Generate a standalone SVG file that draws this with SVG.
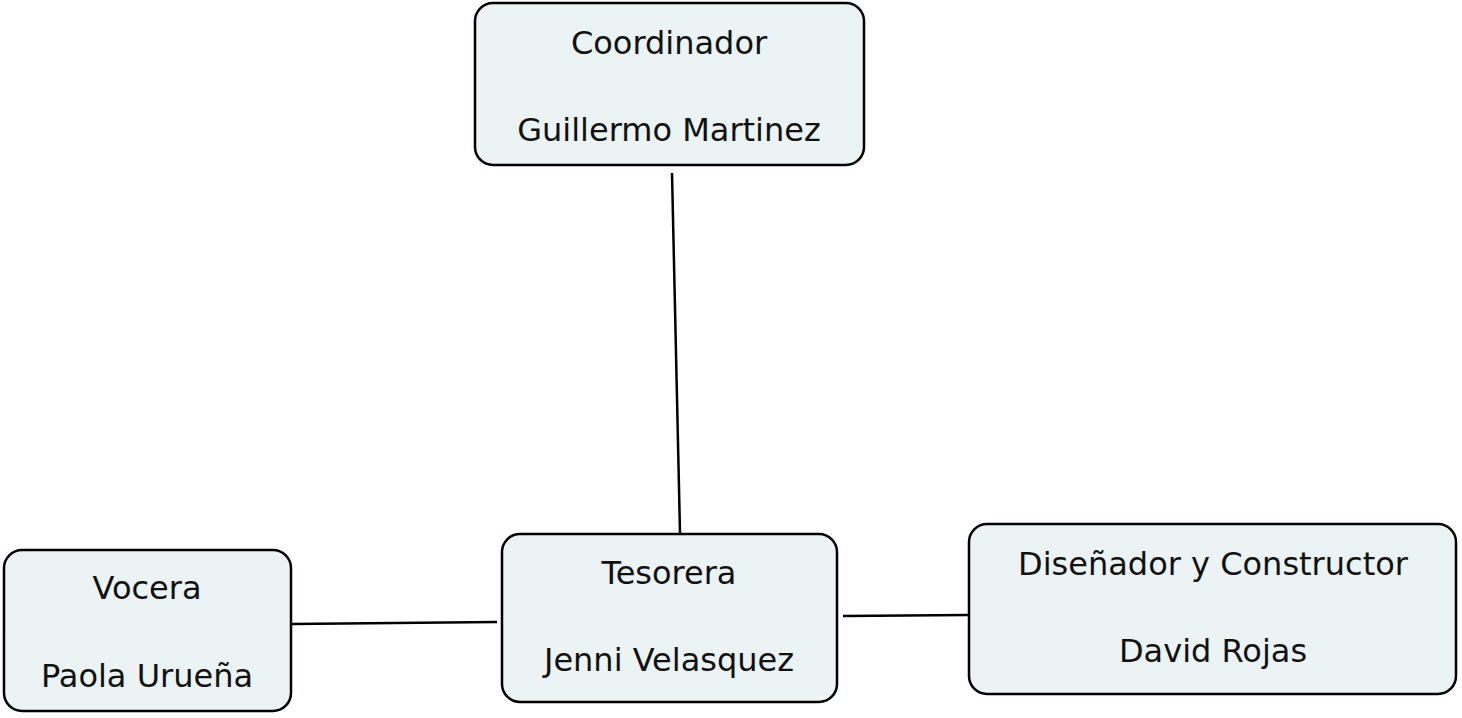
<svg xmlns="http://www.w3.org/2000/svg" width="1462" height="718" viewBox="0 0 1462 718">
<style>
.n{fill:#ebf3f5;stroke:#000;stroke-width:2.5}
text{font-family:"DejaVu Sans",Verdana,sans-serif;font-size:32px;fill:#111;text-anchor:middle}
.c{stroke:#000;stroke-width:2.5;fill:none}
</style>
<rect width="1462" height="718" fill="#fff"/>
<g id="connectors">
<line class="c" x1="672" y1="173" x2="680" y2="533"/>
<line class="c" x1="292" y1="624" x2="497" y2="622"/>
<line class="c" x1="843" y1="616" x2="968" y2="615"/>
</g>
<g id="coordinador"><rect class="n" x="475" y="3" width="389" height="162" rx="18"/>
<text x="669" y="54">Coordinador</text><text x="669" y="141">Guillermo Martinez</text></g>
<g id="tesorera"><rect class="n" x="502" y="534" width="335" height="168" rx="18"/>
<text x="669" y="584">Tesorera</text><text x="669" y="671">Jenni Velasquez</text></g>
<g id="vocera"><rect class="n" x="4" y="550" width="287" height="161" rx="18"/>
<text x="147" y="599">Vocera</text><text x="147" y="687">Paola Urueña</text></g>
<g id="disenador"><rect class="n" x="969" y="524" width="487" height="170" rx="18"/>
<text x="1213" y="575">Diseñador y Constructor</text><text x="1213" y="662">David Rojas</text></g>
</svg>
